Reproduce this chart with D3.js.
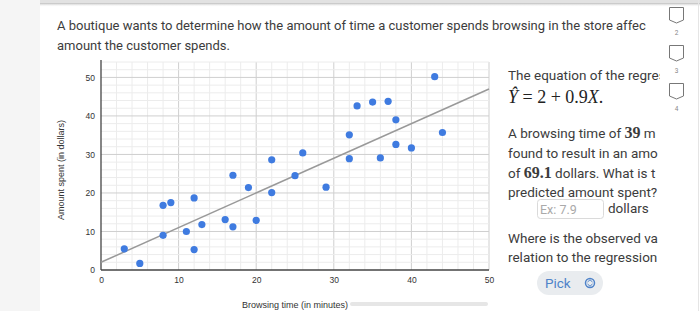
<!DOCTYPE html>
<html>
<head>
<meta charset="utf-8">
<script src="https://cdn.jsdelivr.net/npm/d3@7"></script>
<style>
  html, body { margin: 0; padding: 0; background: #fff; }
  svg { display: block; }
</style>
</head>
<body>
<script>
// browsing time (minutes) and amount spent (dollars)
const minutes = [3, 5, 8, 8, 9, 11, 12, 12, 13, 16, 17, 17, 19, 20, 22, 22, 25, 26, 29, 32, 32, 33, 35, 36, 37, 38, 38, 40, 43, 44]
const dollars = [5.5, 1.7, 16.8, 9.0, 17.5, 10.0, 18.7, 5.3, 11.8, 13.1, 24.6, 11.2, 21.4, 12.9, 28.6, 20.1, 24.5, 30.4, 21.5, 35.1, 28.9, 42.6, 43.6, 29.1, 43.8, 39.0, 32.6, 31.7, 50.2, 35.7]
const xTicks = [0, 10, 20, 30, 40, 50]
const yTicks = [0, 10, 20, 30, 40, 50]
const fitA = 2, fitB = 0.9

const W = 700, H = 311
const svg = d3.select("body").append("svg").attr("width", W).attr("height", H)

// page chrome
svg.append("rect").attr("x", 0).attr("y", 0).attr("width", 40).attr("height", H).attr("fill", "#f5f5f5")
const defs = svg.append("defs")
const grad = defs.append("linearGradient").attr("id", "shadow").attr("x1", 0).attr("x2", 0).attr("y1", 0).attr("y2", 1)
grad.append("stop").attr("offset", "0%").attr("stop-color", "#bbb")
grad.append("stop").attr("offset", "100%").attr("stop-color", "#fff").attr("stop-opacity", 0)
svg.append("rect").attr("x", 40).attr("y", 0).attr("width", W - 40).attr("height", 3).attr("fill", "#e2e2e2")
svg.append("rect").attr("x", 40).attr("y", 3).attr("width", W - 40).attr("height", 4).attr("fill", "url(#shadow)")

defs.append("clipPath").attr("id", "clipText").append("rect").attr("x", 0).attr("y", 0).attr("width", 652).attr("height", H)
defs.append("clipPath").attr("id", "clipSide").append("rect").attr("x", 500).attr("y", 0).attr("width", 160).attr("height", H)

const txt = svg.append("g").attr("clip-path", "url(#clipText)")
  .style("font-family", "Roboto, sans-serif").style("font-size", "13px").attr("fill", "#3c3c3c")
txt.append("text").attr("x", 57).attr("y", 30)
  .text("A boutique wants to determine how the amount of time a customer spends browsing in the store affec")
txt.append("text").attr("x", 57).attr("y", 50).text("amount the customer spends.")

// scatter plot
const x = d3.scaleLinear().domain([0, 50]).range([101, 489])
const y = d3.scaleLinear().domain([0, 54]).range([270, 62])

const minor = d3.range(2, 51, 2)
const minorY = d3.range(2, 55, 2)
const grid = svg.append("g")
grid.selectAll(".vx").data(minor).enter().append("line")
  .attr("x1", d => x(d)).attr("x2", d => x(d)).attr("y1", y(54)).attr("y2", y(0))
  .attr("stroke", d => d % 10 === 0 ? "#cfcfcf" : "#ececec").attr("stroke-width", 1)
grid.selectAll(".hy").data(minorY).enter().append("line")
  .attr("x1", x(0)).attr("x2", x(50)).attr("y1", d => y(d)).attr("y2", d => y(d))
  .attr("stroke", d => d % 10 === 0 ? "#cfcfcf" : "#ececec").attr("stroke-width", 1)

const xAxis = svg.append("g").attr("transform", "translate(0," + y(0) + ")")
  .call(d3.axisBottom(x).tickValues(xTicks).tickSize(0).tickPadding(7))
const yAxis = svg.append("g").attr("transform", "translate(" + x(0) + ",0)")
  .call(d3.axisLeft(y).tickValues(yTicks).tickSize(0).tickPadding(6))
;[xAxis, yAxis].forEach(a => {
  a.select(".domain").remove()
  a.selectAll("text").style("font-family", "Liberation Sans, Arial, sans-serif").style("font-size", "8.5px").attr("fill", "#333")
})
svg.append("line").attr("x1", x(0)).attr("x2", x(50)).attr("y1", y(0)).attr("y2", y(0)).attr("stroke", "#444").attr("stroke-width", 1.3)
svg.append("line").attr("x1", x(0)).attr("x2", x(0)).attr("y1", y(54) - 2).attr("y2", y(0)).attr("stroke", "#444").attr("stroke-width", 1.3)

// regression line
svg.append("line")
  .attr("x1", x(0)).attr("y1", y(fitA)).attr("x2", x(50)).attr("y2", y(fitA + fitB * 50))
  .attr("stroke", "#999").attr("stroke-width", 1.5)

svg.append("g").selectAll("circle").data(minutes).enter().append("circle")
  .attr("cx", d => x(d)).attr("cy", (d, i) => y(dollars[i])).attr("r", 3.6)
  .attr("fill", "#3f7be0")

svg.append("text").attr("x", 295).attr("y", 308).attr("text-anchor", "middle")
  .style("font-family", "Liberation Sans, Arial, sans-serif").style("font-size", "9px").attr("fill", "#333")
  .text("Browsing time (in minutes)")
svg.append("rect").attr("x", 350).attr("y", 302).attr("width", 138).attr("height", 4).attr("rx", 2).attr("fill", "#e6e6e6")
svg.append("text").attr("transform", "translate(64,170) rotate(-90)").attr("text-anchor", "middle")
  .style("font-family", "Liberation Sans, Arial, sans-serif").style("font-size", "9px").attr("fill", "#333")
  .text("Amount spent (in dollars)")

// side question text (cut off by the panel edge, as in the picture)
const side = svg.append("g").attr("clip-path", "url(#clipSide)")
  .style("font-family", "Roboto, sans-serif").style("font-size", "13.5px").attr("fill", "#3c3c3c")
side.append("text").attr("x", 508).attr("y", 80).text("The equation of the regres")
const eq = side.append("text").attr("x", 508).attr("y", 103)
  .style("font-family", "Liberation Serif, DejaVu Serif, serif").style("font-size", "18px").attr("fill", "#222")
eq.append("tspan").style("font-style", "italic").text("Ŷ")
eq.append("tspan").text(" = 2 + 0.9")
eq.append("tspan").style("font-style", "italic").text("X")
eq.append("tspan").text(".")

const l1 = side.append("text").attr("x", 508).attr("y", 138)
l1.append("tspan").text("A browsing time of ")
l1.append("tspan").style("font-family", "Liberation Serif, serif").style("font-weight", "bold").style("font-size", "16px").text("39")
l1.append("tspan").text(" m")
side.append("text").attr("x", 508).attr("y", 158).text("found to result in an amo")
const l3 = side.append("text").attr("x", 508).attr("y", 178)
l3.append("tspan").text("of ")
l3.append("tspan").style("font-family", "Liberation Serif, serif").style("font-weight", "bold").style("font-size", "16px").text("69.1")
l3.append("tspan").text(" dollars. What is t")
side.append("text").attr("x", 508).attr("y", 197).text("predicted amount spent?")

side.append("rect").attr("x", 537.5).attr("y", 199.5).attr("width", 66).attr("height", 19).attr("rx", 3)
  .attr("fill", "#fff").attr("stroke", "#dadada")
side.append("text").attr("x", 540).attr("y", 214).style("font-size", "12.5px").attr("fill", "#aaa").text("Ex: 7.9")
side.append("text").attr("x", 608).attr("y", 213).text("dollars")

side.append("text").attr("x", 508).attr("y", 243).text("Where is the observed va")
side.append("text").attr("x", 508).attr("y", 262).text("relation to the regression")

side.append("rect").attr("x", 537).attr("y", 271).attr("width", 66).attr("height", 24).attr("rx", 12).attr("fill", "#e9ecef")
side.append("text").attr("x", 545).attr("y", 288).attr("fill", "#4f83c9").text("Pick")
side.append("circle").attr("cx", 590).attr("cy", 283).attr("r", 4.5).attr("fill", "none").attr("stroke", "#4f83c9").attr("stroke-width", 1.5)
side.append("path").attr("d", "M587.5,282 L590,279.8 L592.5,282 M587.5,284 L590,286.2 L592.5,284")
  .attr("fill", "none").attr("stroke", "#4f83c9").attr("stroke-width", 1)

// bookmark boxes on the right
const marks = [{t: "2", y0: 7}, {t: "3", y0: 45}, {t: "4", y0: 83}]
const mk = svg.append("g")
marks.forEach(m => {
  mk.append("path")
    .attr("d", `M669.5,${m.y0 + 0.5} H683.5 V${m.y0 + 13} L676.5,${m.y0 + 16} L669.5,${m.y0 + 13} Z`)
    .attr("fill", "#fff").attr("stroke", "#777").attr("stroke-width", 1)
  mk.append("text").attr("x", 676.5).attr("y", m.y0 + 28).attr("text-anchor", "middle")
    .style("font-family", "Roboto, sans-serif").style("font-size", "6.5px").attr("fill", "#888").text(m.t)
})
svg.append("line").attr("x1", 698.5).attr("x2", 698.5).attr("y1", 0).attr("y2", H).attr("stroke", "#e5e5e5")
</script>
</body>
</html>
